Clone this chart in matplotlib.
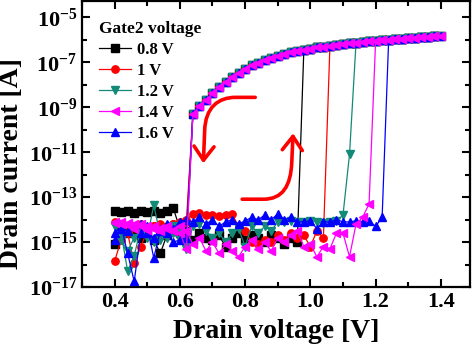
import numpy as np
import matplotlib
matplotlib.use("Agg")
import matplotlib.pyplot as plt
from matplotlib.patches import FancyArrowPatch
from matplotlib.path import Path
from matplotlib.ticker import FixedLocator, FixedFormatter

plt.rcParams['font.family'] = ['Liberation Serif', 'DejaVu Serif']
plt.rcParams['font.weight'] = 'bold'
plt.rcParams['mathtext.fontset'] = 'custom'
plt.rcParams['mathtext.rm'] = 'Liberation Serif:bold'
plt.rcParams['mathtext.bf'] = 'Liberation Serif:bold'
plt.rcParams['mathtext.it'] = 'Liberation Serif:bold:italic'

# drain voltage sweep points [V]
volts = [0.40, 0.42, 0.44, 0.46, 0.48, 0.50, 0.52, 0.54, 0.56, 0.58,
         0.60, 0.62, 0.64, 0.66, 0.68, 0.70, 0.72, 0.74, 0.76, 0.78,
         0.80, 0.82, 0.84, 0.86, 0.88, 0.90, 0.92, 0.94, 0.96, 0.98,
         1.00, 1.02, 1.04, 1.06, 1.08, 1.10, 1.12, 1.14, 1.16, 1.18,
         1.20, 1.22, 1.24, 1.26, 1.28, 1.30, 1.32, 1.34, 1.36, 1.38, 1.40]

# on state branch, log10(I) for 0.64 .. 1.40 V (same for all gate2 voltages)
on_branch = [-9.28, -8.95, -8.66, -8.38, -8.12, -7.88, -7.66, -7.46, -7.29, -7.14,
             -7.01, -6.90, -6.80, -6.71, -6.63, -6.56, -6.50, -6.44, -6.39, -6.34,
             -6.30, -6.26, -6.22, -6.19, -6.16, -6.13, -6.10, -6.07, -6.05, -6.02,
             -6.00, -5.97, -5.95, -5.93, -5.91, -5.89, -5.87, -5.85, -5.83]

# off state, forward sweep from 0.40 V up to the switching point (log10 I)
fwd_08 = [-15.1, -14.3, -14.6, -14.5, -14.8, -14.6, -14.9, -15.5, -14.7, -14.5,
          -14.6, -14.7, -14.9, -14.6, -14.8, -14.9, -14.7, -15.2, -14.8, -14.6,
          -14.9, -14.7, -14.8, -15.0, -14.7, -14.8, -15.1, -14.8, -15.0]
fwd_10 = [-15.85, -14.9, -14.6, -15.95, -15.2, -14.5, -14.3, -14.6, -14.4, -14.2,
          -14.1, -14.0, -13.75, -13.7, -13.8, -13.8, -13.85, -13.8, -13.75, -14.3,
          -14.5, -15.0, -15.1, -14.9, -15.0, -14.7, -14.9, -14.6, -14.8, -14.7,
          -15.2, -14.5, -14.8]
fwd_12 = [-14.3, -14.6, -16.3, -15.6, -14.4, -14.8, -13.35, -14.7, -14.5, -14.3,
          -14.6, -15.3, -14.3, -14.2, -14.5, -14.8, -14.6, -15.0, -14.6, -14.4,
          -15.2, -14.3, -14.6, -14.3, -14.5, -14.1, -14.1, -14.05, -14.1, -14.1,
          -14.05, -14.1, -14.15, -14.1, -14.05, -13.8, -11.1]
fwd_14 = [-14.15, -14.2, -14.25, -14.4, -14.3, -14.45, -14.4, -14.5, -14.3, -14.45,
          -14.3, -14.5, -15.1, -14.8, -15.4, -15.0, -15.5, -15.1, -15.4, -15.65,
          -15.2, -14.9, -15.3, -15.0, -15.4, -14.8, -15.0, -14.7, -14.5, -15.2,
          -15.1, -15.65, -15.2, -15.3, -14.6, -14.6, -15.65, -14.2, -13.9, -13.3]
fwd_16 = [-14.6, -14.3, -15.5, -16.75, -14.6, -14.3, -15.7, -14.5, -14.2, -14.4,
          -14.1, -14.0, -14.1, -13.9, -14.2, -14.0, -14.3, -14.1, -14.0, -14.2,
          -14.05, -13.9, -14.0, -13.8, -14.0, -13.75, -14.0, -13.9, -14.1, -14.1,
          -14.05, -14.4, -14.1, -14.1, -14.0, -14.1, -14.1, -14.05, -14.1, -14.05,
          -14.3, -13.9]

# off state, reverse sweep from 0.62 V down to 0.40 V (log10 I)
rev_08 = [-14.5, -14.4, -13.5, -13.6, -13.7, -13.6, -13.65, -13.6, -13.7, -13.6, -13.65, -13.6]
rev_10 = [-14.1, -14.2, -14.2, -14.3, -14.2, -14.3, -14.4, -14.2, -14.3, -14.5, -14.2, -14.1]
rev_12 = [-15.2, -14.9, -14.6, -14.8, -14.9, -15.0, -14.7, -14.5, -14.8, -15.4, -14.9, -14.3]
rev_14 = [-15.3, -14.6, -14.5, -14.4, -14.35, -14.3, -14.3, -14.2, -14.2, -14.15, -14.1, -14.1]
rev_16 = [-14.8, -14.9, -15.0, -14.6, -14.4, -14.8, -14.6, -14.2, -14.3, -14.5, -14.4, -14.9]

labels = ['0.8 V', '1 V', '1.2 V', '1.4 V', '1.6 V']
colors = ['#000000', '#ff0000', '#138a78', '#ff00ff', '#0000ff']
markers = ['s', 'o', 'v', '<', '^']
fwd_all = [fwd_08, fwd_10, fwd_12, fwd_14, fwd_16]
rev_all = [rev_08, rev_10, rev_12, rev_14, rev_16]


def sweep(fwd, rev):
    n = len(fwd)
    v = list(volts[:n])
    logi = list(fwd)
    for k in range(n, len(volts)):
        v.append(volts[k])
        logi.append(on_branch[k - 12])
    for k in range(len(volts) - 2, 11, -1):
        v.append(volts[k])
        logi.append(on_branch[k - 12])
    for k in range(11, -1, -1):
        v.append(volts[k])
        logi.append(rev[11 - k])
    return np.array(v), 10.0 ** np.array(logi)


fig = plt.figure(figsize=(4.74, 3.48), dpi=100)
ax = fig.add_axes([0.173, 0.175, 0.819, 0.823])

order = [0, 1, 2, 4, 3]
lines = {}
for i in order:
    v, cur = sweep(fwd_all[i], rev_all[i])
    ln, = ax.semilogy(v, cur, color=colors[i], marker=markers[i], ms=5.3,
                      lw=0.9, mec=colors[i], label=labels[i], zorder=3 + order.index(i))
    lines[i] = ln

ax.set_xlim(0.3, 1.49)
ax.set_ylim(1e-17, 10 ** -4.26)

ax.set_xticks([0.4, 0.6, 0.8, 1.0, 1.2, 1.4])
ax.set_xticklabels(['0.4', '0.6', '0.8', '1.0', '1.2', '1.4'])
ax.set_xticks([0.3, 0.5, 0.7, 0.9, 1.1, 1.3], minor=True)

ypos = [1e-17, 1e-15, 1e-13, 1e-11, 1e-9, 1e-7, 1e-5]
ylab = [r'$10^{-17}$', r'$10^{-15}$', r'$10^{-13}$', r'$10^{-11}$',
        r'$10^{-9}$', r'$10^{-7}$', r'$10^{-5}$']
ax.yaxis.set_major_locator(FixedLocator(ypos))
ax.yaxis.set_major_formatter(FixedFormatter(ylab))
ax.yaxis.set_minor_locator(FixedLocator([1e-16, 1e-14, 1e-12, 1e-10, 1e-8, 1e-6]))
ax.yaxis.set_minor_formatter(FixedFormatter([''] * 6))

ax.tick_params(which='both', direction='in', top=True, right=True, width=1.5)
ax.tick_params(which='major', length=6, labelsize=16)
ax.tick_params(which='minor', length=3.5)
for s in ax.spines.values():
    s.set_linewidth(1.6)

ax.set_xlabel('Drain voltage [V]', fontsize=20, fontweight='bold', labelpad=5)
ax.set_ylabel('Drain current [A]', fontsize=20, fontweight='bold')
ax.yaxis.set_label_coords(-0.15, 0.43)

# red arrows showing sweep direction: straight run, rounded corner, straight run
arrow_down = [(0.831, -8.56), (0.771, -8.56), (0.718, -8.56), (0.678, -9.0),
              (0.676, -10.05), (0.672, -11.49)]
arrow_up = [(0.791, -13.09), (0.856, -13.09), (0.915, -13.09), (0.940, -12.5),
            (0.943, -11.45), (0.947, -10.16)]
codes = [Path.MOVETO, Path.LINETO, Path.CURVE4, Path.CURVE4, Path.CURVE4, Path.LINETO]
for pts in [arrow_down, arrow_up]:
    verts = [(x, 10 ** e) for x, e in pts]
    arr = FancyArrowPatch(path=Path(verts, codes),
                          arrowstyle='->,head_length=0.55,head_width=0.4',
                          mutation_scale=18, color='#ff0000', lw=2.6, zorder=10)
    ax.add_patch(arr)

leg = ax.legend(handles=[lines[i] for i in range(5)], loc='upper left',
                frameon=False, title='Gate2 voltage', fontsize=12,
                title_fontproperties={'weight': 'bold', 'size': 12.5},
                alignment='left', handlelength=1.9, handletextpad=0.35,
                labelspacing=0.3, borderaxespad=0, borderpad=0,
                bbox_to_anchor=(0.045, 0.928))

fig.savefig('out.png', dpi=100)
